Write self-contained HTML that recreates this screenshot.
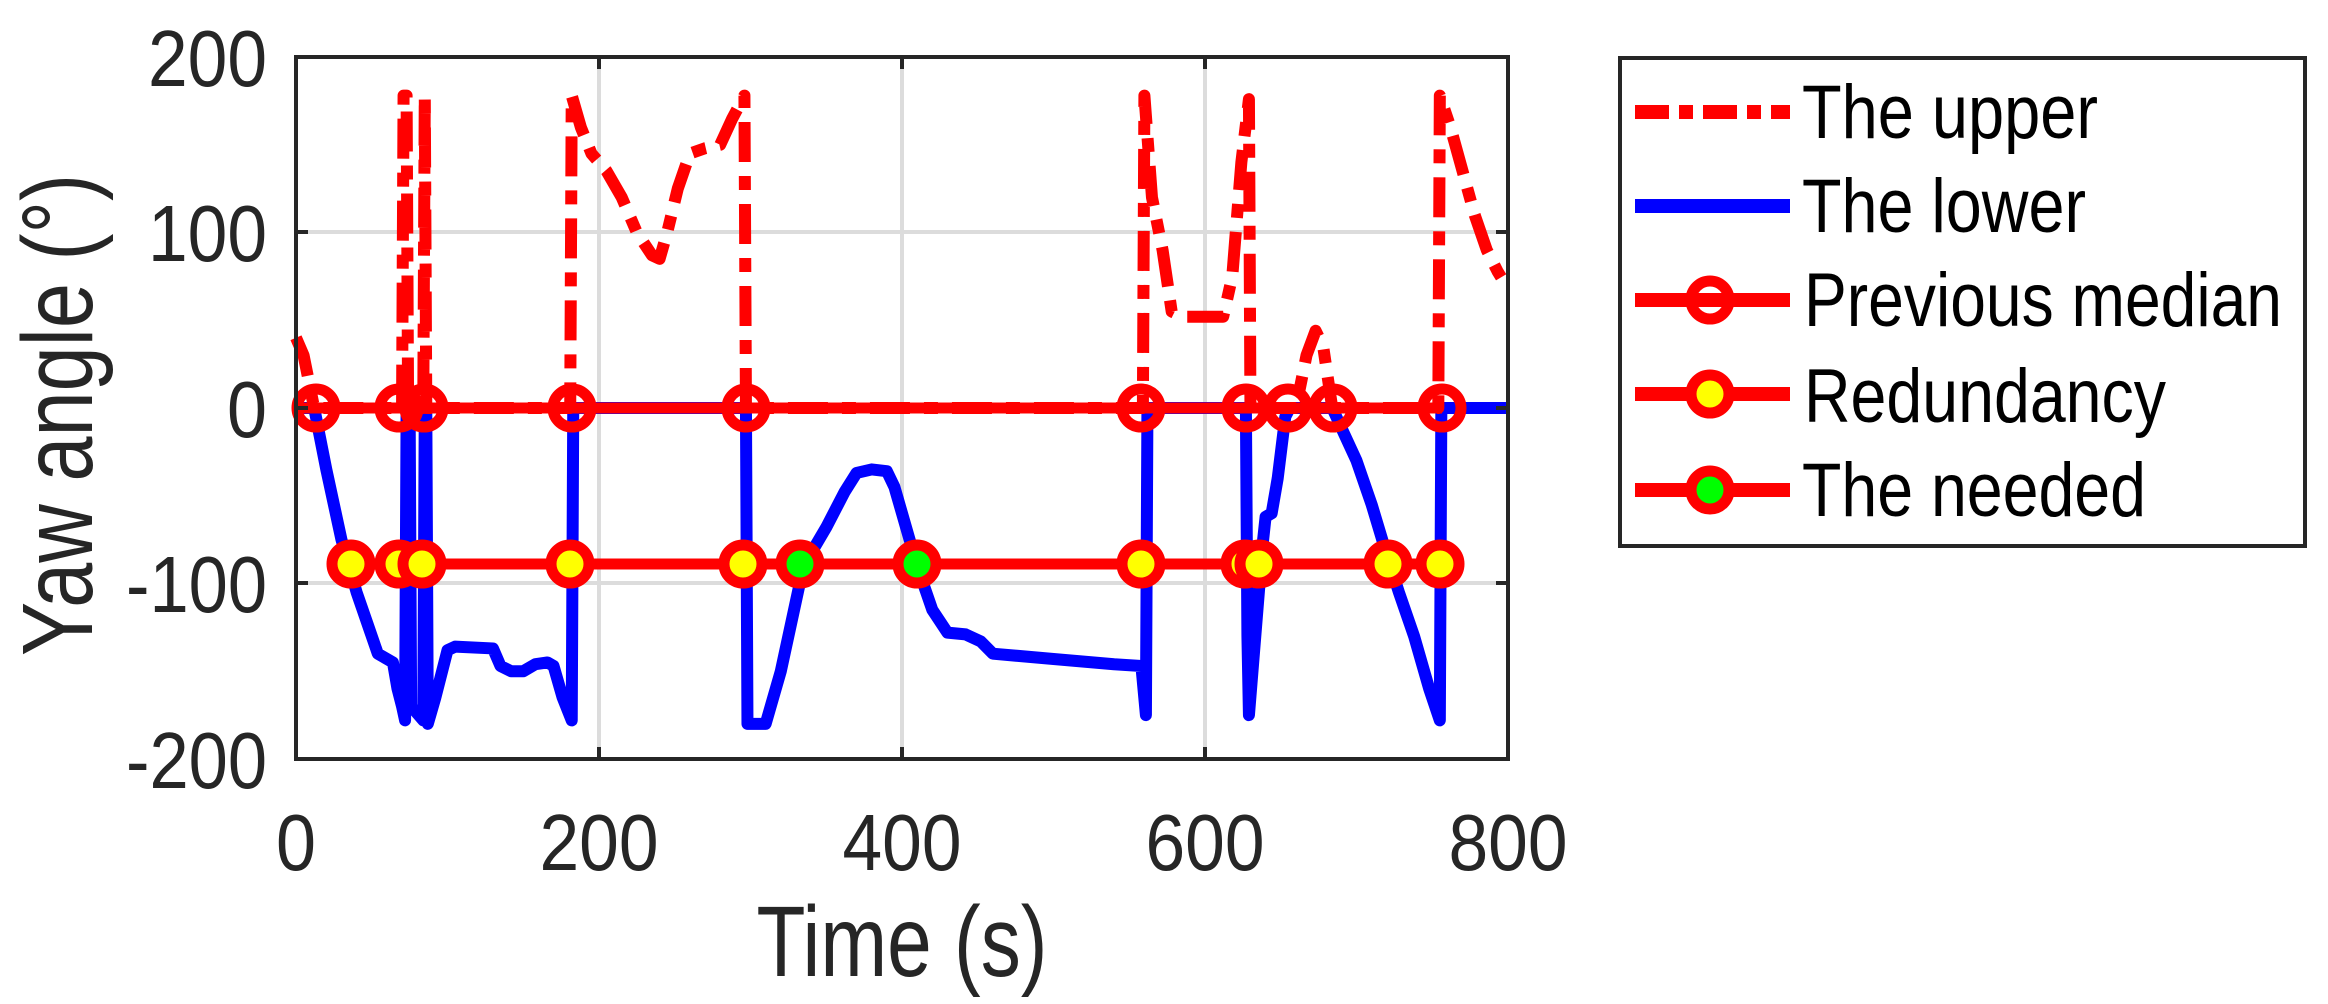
<!DOCTYPE html>
<html><head><meta charset="utf-8"><style>
html,body{margin:0;padding:0;background:#fff;}
svg{display:block;font-family:"Liberation Sans",Arial,sans-serif;}
</style></head><body>
<svg width="2328" height="1004" viewBox="0 0 2328 1004" xmlns="http://www.w3.org/2000/svg">
<rect width="2328" height="1004" fill="#fff"/>
<g stroke="#dcdcdc" stroke-width="4">
<line x1="599" y1="57" x2="599" y2="759"/>
<line x1="902" y1="57" x2="902" y2="759"/>
<line x1="1205" y1="57" x2="1205" y2="759"/>
<line x1="296" y1="232" x2="1508" y2="232"/>
<line x1="296" y1="408" x2="1508" y2="408"/>
<line x1="296" y1="583" x2="1508" y2="583"/>
</g>
<g transform="matrix(1.515 0 0 -1.755 296 408)" fill="none" stroke-linejoin="round">
<polyline vector-effect="non-scaling-stroke" stroke="#0000ff" stroke-width="12" points="0,0 12,0 20,-35 30,-75 40,-105 48,-125 54,-140 60,-143 64,-145 67,-160 70,-170 72,-178 73,0 75,0 76,-170 84,-178 85,0 86,0 87,-180 92,-165 100,-138 105,-136 130,-137 135,-147 142,-150 150,-150 158,-146 166,-145 170,-147 176,-165 182,-178 183,0 297,0 298,-180 310,-180 320,-150 335,-90 350,-68 362,-48 370,-37 380,-35 390,-36 395,-45 405,-75 412,-95 420,-115 430,-128 442,-129 452,-133 460,-140 500,-143 540,-146 558,-147 561,-175 562,0 627,0 628,-130 629,-175 636,-100 638,-78 640,-62 644,-60 648,-40 653,-5 656,0 684,0 692,-15 700,-30 710,-55 718,-78 728,-105 738,-130 748,-160 755,-178 756,0 800,0"/>
<polyline vector-effect="non-scaling-stroke" stroke="#ff0000" stroke-width="12" stroke-dasharray="40 14 14 14" points="0,40 5,30 12,0 70,0 71,178 73,178 74,0 84,0 85,178 86,0 181,0 182,178 188,160 195,145 205,135 215,120 225,100 235,87 240,85 245,100 252,125 260,145 270,148 280,150 288,165 296,178 297,0 559,0 560,178 565,120 572,90 578,55 585,52 600,52 612,52 618,75 624,140 629,176 630,0 660,0 667,30 673,44 678,35 684,0 754,0 755,178 762,160 770,135 778,110 786,90 793,78 800,68"/>
</g>
<g stroke="#ff0000" stroke-width="11">
<line x1="296" y1="408" x2="1442" y2="408"/>
<line x1="351" y1="564" x2="1440" y2="564"/>
</g>
<g fill="none" stroke="#ff0000" stroke-width="11">
<circle cx="316" cy="408" r="19"/><circle cx="399" cy="408" r="19"/><circle cx="424" cy="408" r="19"/>
<circle cx="572" cy="408" r="19"/><circle cx="746" cy="408" r="19"/><circle cx="1141" cy="408" r="19"/>
<circle cx="1246" cy="408" r="19"/><circle cx="1288" cy="408" r="19"/><circle cx="1333" cy="408" r="19"/>
<circle cx="1442" cy="408" r="19"/>
</g>
<g fill="#ffff00" stroke="#ff0000" stroke-width="11">
<circle cx="351" cy="564" r="19"/><circle cx="399" cy="564" r="19"/><circle cx="422" cy="564" r="19"/>
<circle cx="570" cy="564" r="19"/><circle cx="743" cy="564" r="19"/><circle cx="1141" cy="564" r="19"/>
<circle cx="1245" cy="564" r="19"/><circle cx="1259" cy="564" r="19"/><circle cx="1388" cy="564" r="19"/>
<circle cx="1440" cy="564" r="19"/>
</g>
<g fill="#00ff00" stroke="#ff0000" stroke-width="11">
<circle cx="800" cy="564" r="19"/><circle cx="917" cy="564" r="19"/>
</g>
<rect x="296" y="57" width="1212" height="702" fill="none" stroke="#262626" stroke-width="4"/>
<g stroke="#262626" stroke-width="4">
<line x1="599" y1="759" x2="599" y2="747"/><line x1="902" y1="759" x2="902" y2="747"/><line x1="1205" y1="759" x2="1205" y2="747"/>
<line x1="599" y1="57" x2="599" y2="69"/><line x1="902" y1="57" x2="902" y2="69"/><line x1="1205" y1="57" x2="1205" y2="69"/>
<line x1="296" y1="232" x2="308" y2="232"/><line x1="296" y1="408" x2="308" y2="408"/><line x1="296" y1="583" x2="308" y2="583"/>
<line x1="1508" y1="232" x2="1496" y2="232"/><line x1="1508" y1="408" x2="1496" y2="408"/><line x1="1508" y1="583" x2="1496" y2="583"/>
</g>
<g fill="#262626" font-size="80" text-anchor="end" lengthAdjust="spacingAndGlyphs">
<text x="267" y="86" textLength="119" lengthAdjust="spacingAndGlyphs">200</text>
<text x="267" y="261" textLength="119" lengthAdjust="spacingAndGlyphs">100</text>
<text x="267" y="437" textLength="40" lengthAdjust="spacingAndGlyphs">0</text>
<text x="267" y="612" textLength="141" lengthAdjust="spacingAndGlyphs">-100</text>
<text x="267" y="788" textLength="141" lengthAdjust="spacingAndGlyphs">-200</text>
</g>
<g fill="#262626" font-size="80" text-anchor="middle">
<text x="296" y="870" textLength="40" lengthAdjust="spacingAndGlyphs">0</text>
<text x="599" y="870" textLength="119" lengthAdjust="spacingAndGlyphs">200</text>
<text x="902" y="870" textLength="119" lengthAdjust="spacingAndGlyphs">400</text>
<text x="1205" y="870" textLength="119" lengthAdjust="spacingAndGlyphs">600</text>
<text x="1508" y="870" textLength="119" lengthAdjust="spacingAndGlyphs">800</text>
</g>
<text x="902" y="976" fill="#262626" font-size="100" text-anchor="middle" textLength="291" lengthAdjust="spacingAndGlyphs">Time (s)</text>
<text transform="translate(92,415) rotate(-90)" fill="#262626" font-size="100" text-anchor="middle" textLength="482" lengthAdjust="spacingAndGlyphs">Yaw angle (°)</text>
<rect x="1620" y="58" width="685" height="488" fill="#fff" stroke="#262626" stroke-width="4"/>
<line x1="1635" y1="112" x2="1790" y2="112" stroke="#ff0000" stroke-width="14" stroke-dasharray="34 10 14 10"/>
<line x1="1635" y1="206" x2="1790" y2="206" stroke="#0000ff" stroke-width="14"/>
<line x1="1635" y1="300" x2="1790" y2="300" stroke="#ff0000" stroke-width="14"/>
<circle cx="1710" cy="300" r="19" fill="none" stroke="#ff0000" stroke-width="11"/>
<line x1="1635" y1="394" x2="1790" y2="394" stroke="#ff0000" stroke-width="14"/>
<circle cx="1710" cy="394" r="19" fill="#ffff00" stroke="#ff0000" stroke-width="11"/>
<line x1="1635" y1="490" x2="1790" y2="490" stroke="#ff0000" stroke-width="14"/>
<circle cx="1710" cy="490" r="19" fill="#00ff00" stroke="#ff0000" stroke-width="11"/>
<g fill="#000" font-size="76">
<text x="1802" y="138" textLength="296" lengthAdjust="spacingAndGlyphs">The upper</text>
<text x="1802" y="232" textLength="284" lengthAdjust="spacingAndGlyphs">The lower</text>
<text x="1804" y="326" textLength="478" lengthAdjust="spacingAndGlyphs">Previous median</text>
<text x="1804" y="422" textLength="362" lengthAdjust="spacingAndGlyphs">Redundancy</text>
<text x="1802" y="516" textLength="344" lengthAdjust="spacingAndGlyphs">The needed</text>
</g>
</svg>
</body></html>
